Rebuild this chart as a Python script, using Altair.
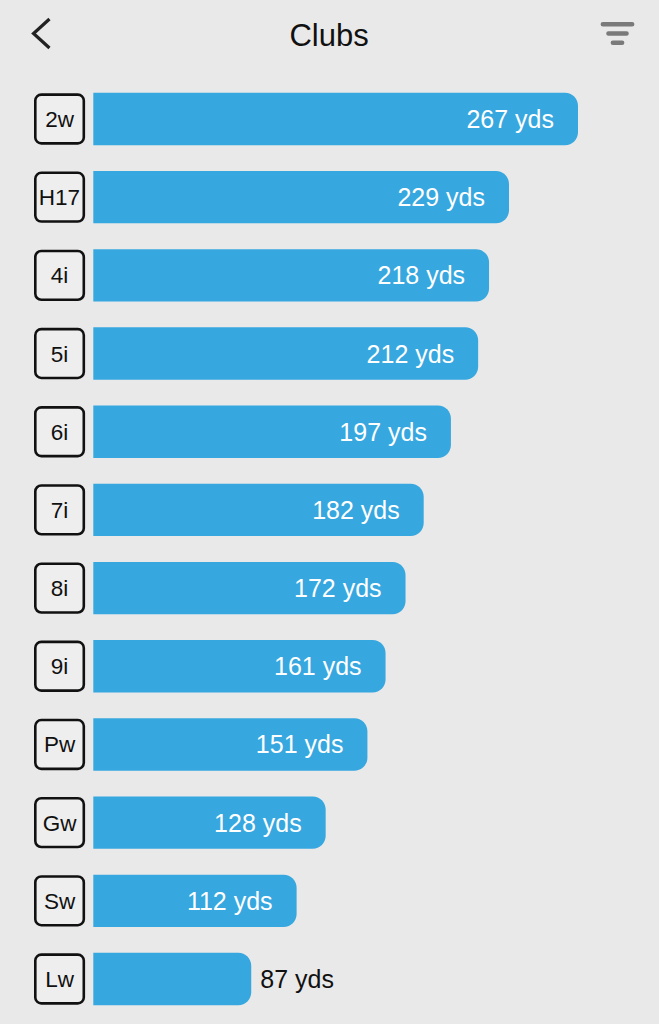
import altair as alt
import pandas as pd

# ---- data ----
clubs = ["2w", "H17", "4i", "5i", "6i", "7i", "8i", "9i", "Pw", "Gw", "Sw", "Lw"]
yards = [267, 229, 218, 212, 197, 182, 172, 161, 151, 128, 112, 87]
title_text = ["Clubs"]

FONT = "Liberation Sans"
BG = "#e9e9e9"
BAR = "#37a7df"

df = pd.DataFrame({"club": clubs, "yds": yards, "idx": list(range(len(clubs)))})
df["label"] = df["yds"].astype(str) + " yds"

base = alt.Chart(df)

yscale = alt.Scale(domain=[0, len(clubs) - 1], range=[119, 979], nice=False, zero=False)
xscale = alt.Scale(domain=[0, max(yards)], range=[93.3, 578], nice=False)

bars = base.transform_calculate(
    y0="datum.idx - 0.335", y1="datum.idx + 0.335", zero="0"
).mark_rect(
    color=BAR, cornerRadiusTopRight=13, cornerRadiusBottomRight=13
).encode(
    x=alt.X("zero:Q", scale=xscale, axis=None),
    x2="yds:Q",
    y=alt.Y("y0:Q", scale=yscale, axis=None),
    y2="y1:Q",
)

boxes = base.transform_calculate(
    b0="datum.idx - 0.312", b1="datum.idx + 0.312"
).mark_rect(
    fill="#eeeeee", stroke="#111111", strokeWidth=2.6, cornerRadius=6
).encode(
    x=alt.value(35.3),
    x2=alt.value(83.8),
    y=alt.Y("b0:Q", scale=yscale, axis=None),
    y2="b1:Q",
)

club_text = base.mark_text(
    font=FONT, fontSize=22.5, color="#111111", align="center", baseline="middle", dy=1
).encode(
    x=alt.value(59.5),
    y=alt.Y("idx:Q", scale=yscale, axis=None),
    text="club:N",
)

inside_text = base.transform_filter("datum.yds >= 100").mark_text(
    font=FONT, fontSize=25, color="white", align="right", baseline="middle", dx=-24, dy=1
).encode(
    x=alt.X("yds:Q", scale=xscale, axis=None),
    y=alt.Y("idx:Q", scale=yscale, axis=None),
    text="label:N",
)

outside_text = base.transform_filter("datum.yds < 100").mark_text(
    font=FONT, fontSize=25, color="#111111", align="left", baseline="middle", dx=9, dy=1
).encode(
    x=alt.X("yds:Q", scale=xscale, axis=None),
    y=alt.Y("idx:Q", scale=yscale, axis=None),
    text="label:N",
)

hdr = alt.Chart(pd.DataFrame({"t": title_text}))

title = hdr.mark_text(
    font=FONT, fontSize=31, color="#111111", align="center", baseline="alphabetic"
).encode(x=alt.value(329), y=alt.value(46), text="t:N")

back = hdr.mark_point(
    shape="M0.55,-1L-0.55,0L0.55,1", size=841, filled=False,
    stroke="#222222", strokeWidth=3.2, opacity=1
).encode(x=alt.value(41.5), y=alt.value(33.5))

filt = hdr.mark_point(
    shape="M-0.86,-0.54L0.86,-0.54M-0.53,0L0.53,0M-0.27,0.54L0.27,0.54",
    size=1156, filled=False, stroke="#7a7a7a", strokeWidth=4.6,
    strokeCap="round", opacity=1
).encode(x=alt.value(617.5), y=alt.value(33.5))

chart = alt.layer(
    bars, boxes, club_text, inside_text, outside_text, title, back, filt
).properties(
    width=659, height=1024, background=BG, padding=0,
    autosize=alt.AutoSizeParams(type="none")
).configure_view(stroke=None)

chart.save("out.html", embed_options={"renderer": "svg", "actions": False})
